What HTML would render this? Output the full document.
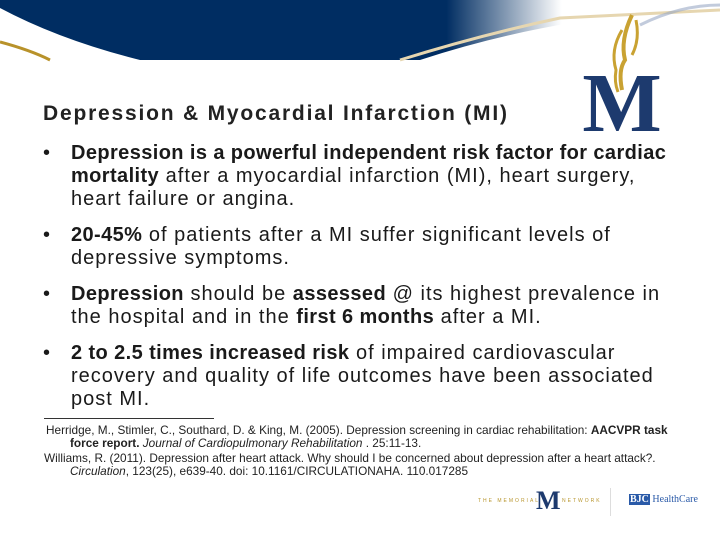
<!DOCTYPE html>
<html><head><meta charset="utf-8"><style>
body{margin:0;width:720px;height:540px;overflow:hidden;background:#fff;font-family:"Liberation Sans",sans-serif;position:relative}
.l{position:absolute;white-space:nowrap;color:#1a1a1a;font-size:20px;letter-spacing:1px}
.l b{letter-spacing:0.4px}
.r{position:absolute;white-space:nowrap;color:#222;font-size:11.8px}
b{font-weight:bold}
</style></head><body>
<svg width="720" height="140" style="position:absolute;left:0;top:0">
<defs><linearGradient id="g" x1="0" x2="1"><stop offset="0.62" stop-color="#002d62"/><stop offset="0.78" stop-color="#fff"/></linearGradient></defs>
<path d="M0,0 H720 V8 Q560,14 420,60 L140,60 Q60,40 0,8 Z" fill="url(#g)"/>
<path d="M0,42 Q30,50 50,60" stroke="#b8922a" stroke-width="3" fill="none"/>
<path d="M400,60 Q480,35 560,18 L720,10" stroke="#e6d6b0" stroke-width="3" fill="none"/>
<path d="M640,25 Q680,5 720,5" stroke="#9aa9c4" stroke-width="3" fill="none" opacity="0.6"/>
</svg>
<svg width="110" height="135" style="position:absolute;left:570;top:0">
<path d="M62,15 Q50,40 55,60 Q48,70 52,90" stroke="#c9a232" stroke-width="4" fill="none"/>
<path d="M52,30 Q40,50 46,70 Q44,82 48,92" stroke="#c9a232" stroke-width="3" fill="none"/>
<path d="M66,20 Q70,40 62,55" stroke="#c9a232" stroke-width="3" fill="none"/>
<text x="52" y="131" text-anchor="middle" font-family="Liberation Serif" font-weight="bold" font-size="84" fill="#1d3a6e">M</text>
</svg>
<div class="l" style="left:43px;top:102px;font-size:21px;font-weight:bold;letter-spacing:1.8px;color:#222">Depression &amp; Myocardial Infarction (MI)</div>
<div class="l" style="left:43px;top:142px"><span style="position:absolute;left:0">•</span><span style="position:absolute;left:28px"><b>Depression is a powerful independent risk factor for cardiac</b></span></div>
<div class="l" style="left:71px;top:165px"><b>mortality</b> after a myocardial infarction (MI), heart surgery,</div>
<div class="l" style="left:71px;top:188px">heart failure or angina.</div>
<div class="l" style="left:43px;top:224px"><span style="position:absolute;left:0">•</span><span style="position:absolute;left:28px"><b>20-45%</b> of patients after a MI suffer significant levels of</span></div>
<div class="l" style="left:71px;top:247px">depressive symptoms.</div>
<div class="l" style="left:43px;top:283px"><span style="position:absolute;left:0">•</span><span style="position:absolute;left:28px"><b>Depression</b> should be <b>assessed</b> @ its highest prevalence in</span></div>
<div class="l" style="left:71px;top:306px">the hospital and in the <b>first 6 months</b> after a MI.</div>
<div class="l" style="left:43px;top:342px"><span style="position:absolute;left:0">•</span><span style="position:absolute;left:28px"><b>2 to 2.5 times increased risk</b> of impaired cardiovascular</span></div>
<div class="l" style="left:71px;top:365px">recovery and quality of life outcomes have been associated</div>
<div class="l" style="left:71px;top:388px">post MI.</div>
<div style="position:absolute;left:44px;top:418px;width:170px;border-top:1px solid #333"></div>
<div class="r" style="left:46px;top:423px">Herridge, M., Stimler, C., Southard, D. &amp; King, M. (2005). Depression screening in cardiac rehabilitation: <b>AACVPR task</b></div>
<div class="r" style="left:70px;top:436px"><b>force report.</b> <i>Journal of Cardiopulmonary Rehabilitation</i> . 25:11-13.</div>
<div class="r" style="left:44px;top:451px">Williams, R. (2011). Depression after heart attack. Why should I be concerned about depression after a heart attack?.</div>
<div class="r" style="left:70px;top:464px"><i>Circulation</i>, 123(25), e639-40. doi: 10.1161/CIRCULATIONAHA. 110.017285</div>
<div style="position:absolute;left:478px;top:484px;width:240px;height:36px">
<span style="position:absolute;left:0;top:14px;font-size:5px;letter-spacing:2px;color:#b8962e;white-space:nowrap">THE MEMORIAL</span>
<span style="position:absolute;left:58px;top:2px;font-family:'Liberation Serif';font-weight:bold;font-size:26px;color:#1d3a6e">M</span>
<span style="position:absolute;left:84px;top:14px;font-size:5px;letter-spacing:2px;color:#b8962e;white-space:nowrap">NETWORK</span>
<span style="position:absolute;left:132px;top:4px;height:28px;border-left:1px solid #ddd"></span>
<span style="position:absolute;left:151px;top:10px;font-family:'Liberation Serif';font-size:10px;color:#2a5aa8;white-space:nowrap"><b style="background:#2a5aa8;color:#fff;padding:0 1px">BJC</b> HealthCare</span>
</div>
</body></html>
